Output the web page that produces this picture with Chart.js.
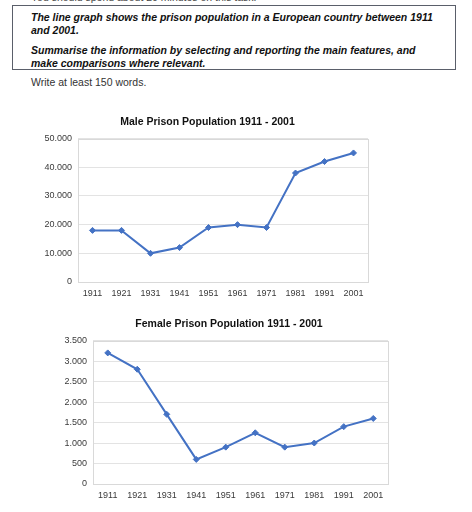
<!DOCTYPE html>
<html>
<head>
<meta charset="utf-8">
<script src="https://cdn.jsdelivr.net/npm/chart.js@4"></script>
<style>
  body { margin:0; background:#fff; width:472px; height:512px; overflow:hidden; position:relative; font-family:"Liberation Sans", Arial, sans-serif; }
  .cut { position:absolute; left:31px; top:-9px; font-size:10.5px; color:#444; }
  .task { position:absolute; left:12px; top:5px; width:444px; height:65px; border:1px solid #5a5f6a; box-sizing:border-box; }
  .task p { position:absolute; left:18px; margin:0; font-size:10.5px; font-weight:bold; font-style:italic; line-height:13px; color:#111; white-space:nowrap; }
  .write { position:absolute; left:31px; top:76px; font-size:10.5px; color:#333; }
  .box { position:absolute; }
</style>
</head>
<body>
<div class="cut">You should spend about 20 minutes on this task.</div>
<div class="task">
  <p style="top:5px">The line graph shows the prison population in a European country between 1911<br>and 2001.</p>
  <p style="top:38px">Summarise the information by selecting and reporting the main features, and<br>make comparisons where relevant.</p>
</div>
<div class="write">Write at least 150 words.</div>

<div class="box" style="left:40px;top:110px;width:335px;height:200px"><canvas id="maleChart"></canvas></div>
<div class="box" style="left:50px;top:312px;width:358px;height:200px"><canvas id="femaleChart"></canvas></div>

<script>
const years = ['1911','1921','1931','1941','1951','1961','1971','1981','1991','2001'];
const maleValues = [18000, 18000, 10000, 12000, 19000, 20000, 19000, 38000, 42000, 45000];
const femaleValues = [3200, 2800, 1700, 600, 900, 1250, 900, 1000, 1400, 1600];
const maleTicks = [0, 10000, 20000, 30000, 40000, 50000];
const femaleTicks = [0, 500, 1000, 1500, 2000, 2500, 3000, 3500];

// thousands with a dot, like the original
const fmt = v => v === 0 ? '0' : v.toLocaleString('de-DE');

// light frame round the plot area
const frame = {
  id: 'frame',
  afterDraw(chart) {
    const a = chart.chartArea, ctx = chart.ctx;
    ctx.save();
    ctx.strokeStyle = '#d9d9d9';
    ctx.lineWidth = 1;
    ctx.strokeRect(Math.round(a.left) + 0.5, Math.round(a.top) + 0.5, Math.round(a.right - a.left), Math.round(a.bottom - a.top));
    ctx.restore();
  }
};

const tickFont = { family: 'Liberation Sans', size: 9 };

const makeChart = (id, title, values, ticks, yWidth, rightGap) => {
  new Chart(document.getElementById(id), {
    type: 'line',
    data: {
      labels: years,
      datasets: [{
        data: values,
        borderColor: '#4472c4',
        backgroundColor: '#4472c4',
        borderWidth: 2,
        pointStyle: 'rectRot',
        pointRadius: 3,
        pointBorderWidth: 1,
        tension: 0
      }]
    },
    options: {
      responsive: true,
      maintainAspectRatio: false,
      animation: false,
      layout: { padding: 0 },
      plugins: {
        legend: { display: false },
        tooltip: { enabled: false },
        title: {
          display: true,
          text: title,
          color: '#111',
          font: { family: 'Liberation Sans', size: 10.5, weight: 'bold' },
          padding: { top: 6, bottom: 10 }
        }
      },
      scales: {
        x: {
          offset: true,
          grid: { display: false, drawTicks: false },
          border: { color: '#d9d9d9' },
          ticks: { color: '#3a3a3a', font: tickFont, padding: 6, maxRotation: 0 },
          afterFit: s => { s.height = 28; }
        },
        y: {
          min: ticks[0],
          max: ticks[ticks.length - 1],
          afterBuildTicks: s => { s.ticks = ticks.map(v => ({ value: v })); },
          grid: { color: '#e3e3e3', drawTicks: false },
          border: { display: false },
          ticks: { color: '#3a3a3a', font: tickFont, padding: 6, callback: v => fmt(v) },
          afterFit: s => { s.width = yWidth; }
        },
        // empty right axis, only keeps the gap right of the plot
        gap: {
          type: 'linear',
          position: 'right',
          grid: { display: false, drawTicks: false },
          border: { display: false },
          ticks: { display: false },
          afterFit: s => { s.width = rightGap; }
        }
      }
    },
    plugins: [frame]
  });
};

makeChart('maleChart', 'Male Prison Population 1911 - 2001', maleValues, maleTicks, 38, 7);
makeChart('femaleChart', 'Female Prison Population 1911 - 2001', femaleValues, femaleTicks, 43, 20);
</script>
</body>
</html>
